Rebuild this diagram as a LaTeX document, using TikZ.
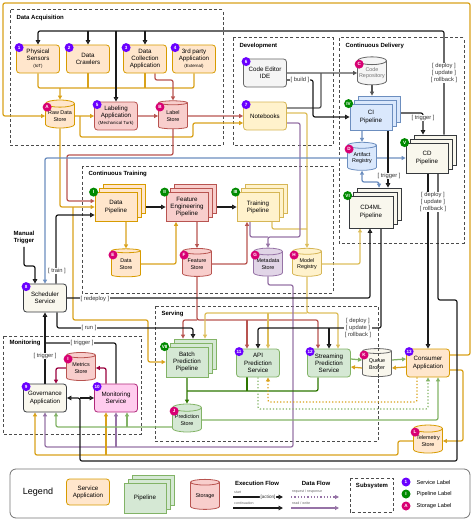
\documentclass[tikz,border=0pt]{standalone}
\usepackage{fontspec}
\setmainfont{Liberation Sans}
\usetikzlibrary{
  arrows.meta,
  shapes.geometric,
  positioning,
  calc,
  shadows,
  backgrounds
}
% node fills and strokes
\definecolor{svcfill}{HTML}{FFE6CC}
\definecolor{svcdraw}{HTML}{D79B00}
\definecolor{grnfill}{HTML}{D5E8D4}
\definecolor{grndraw}{HTML}{82B366}
\definecolor{redfill}{HTML}{F8CECC}
\definecolor{reddraw}{HTML}{B85450}
\definecolor{blufill}{HTML}{DAE8FC}
\definecolor{bludraw}{HTML}{6C8EBF}
\definecolor{yelfill}{HTML}{FFF2CC}
\definecolor{yeldraw}{HTML}{D6B656}
\definecolor{purfill}{HTML}{E1D5E7}
\definecolor{purdraw}{HTML}{9673A6}
\definecolor{gryfill}{HTML}{F5F5F5}
\definecolor{grydraw}{HTML}{666666}
\definecolor{begfill}{HTML}{F9F7ED}
\definecolor{begdraw}{HTML}{36393D}
\definecolor{pnkfill}{HTML}{FFCCEE}
\definecolor{pnkdraw}{HTML}{B0287A}
% badges
\definecolor{bpurple}{HTML}{6A00FF}
\definecolor{bgreen}{HTML}{008A00}
\definecolor{bmagenta}{HTML}{D80073}
% connectors
\definecolor{orline}{HTML}{D9A21B}
\definecolor{yeline}{HTML}{DDBE5C}
\definecolor{rdline}{HTML}{B85450}
\definecolor{blline}{HTML}{6C8EBF}
\definecolor{puline}{HTML}{9673A6}
\definecolor{dgline}{HTML}{2D7600}
\definecolor{lgline}{HTML}{82B366}
\definecolor{mrline}{HTML}{99003D}
\definecolor{gyline}{HTML}{555555}
\definecolor{exline}{HTML}{1A1A1A}

\begin{document}
\begin{tikzpicture}[
      x=1pt, y=-1pt,
      >={Triangle[length=4pt,width=4pt]},
      service/.style 2 args={
         rectangle,
         rounded corners=3pt,
         minimum width=43pt,
         minimum height=28pt,
         inner sep=1pt,
         line width=0.8pt,
         fill=#1, draw=#2,
         align=center,
         font=\fontsize{6.2}{7.2}\selectfont
      },
      pipeline/.style 2 args={
         rectangle,
         minimum width=42pt,
         minimum height=29pt,
         inner sep=1pt,
         line width=0.8pt,
         fill=#1, draw=#2,
         align=center,
         font=\fontsize{6.2}{7.2}\selectfont,
         copy shadow={shadow xshift=8pt,shadow yshift=8pt,fill=#1,draw=#2,line width=0.8pt},
         copy shadow={shadow xshift=4pt,shadow yshift=4pt,fill=#1,draw=#2,line width=0.8pt}
      },
      storage/.style 2 args={
         cylinder,
         shape border rotate=90,
         aspect=0.3,
         minimum width=29pt,
         minimum height=28pt,
         inner sep=0pt,
         line width=0.8pt,
         fill=#1, draw=#2,
         align=center,
         font=\fontsize{5.4}{6.4}\selectfont
      },
      badge/.style={
         circle, inner sep=0pt, minimum size=9pt, anchor=center,
         text=white, font=\bfseries\fontsize{4.6}{5}\selectfont
      },
      svc no/.style={label={[badge,fill=bpurple,xshift=3pt,yshift=-3pt]north west:#1}},
      pipe no/.style={label={[badge,fill=bgreen,xshift=-1pt]north west:#1}},
      store no/.style={label={[badge,fill=bmagenta,xshift=1pt,yshift=-5pt]north west:#1}},
      subsystem/.style={draw=black!70, line width=1pt, dash pattern=on 3pt off 2.2pt},
      boxtitle/.style={anchor=west, font=\bfseries\fontsize{6}{7}\selectfont},
      lbl/.style={fill=white, inner sep=0.6pt, align=center, text=black!80,
         font=\fontsize{5.8}{6.6}\selectfont},
      hint/.style={anchor=west, inner sep=0pt, text=black!60, font=\fontsize{3.6}{4}\selectfont},
      flow/.style={draw=#1, line width=1.25pt, rounded corners=2pt, ->},
      bus/.style={draw=#1, line width=1.25pt, rounded corners=2pt},
      exec/.style={draw=exline, line width=1.2pt, rounded corners=2pt,
         -{Triangle[open,length=4.5pt,width=4.5pt]}},
      point/.style={coordinate}
    ]
    \useasboundingbox (0,0) rectangle (474,519);

    % data acquisition
    \node (ps) [service={svcfill}{svcdraw}, svc no=1] at (38,59)
       {Physical\\Sensors\\{\fontsize{4.4}{5}\selectfont (IoT)}};
    \node (dc) [service={svcfill}{svcdraw}, svc no=2] at (88,59) {Data\\Crawlers};
    \node (dca) [service={svcfill}{svcdraw}, svc no=3] at (145,59) {Data\\Collection\\Application};
    \node (tpa) [service={svcfill}{svcdraw}, svc no=4] at (194,59)
       {3rd party\\Application\\{\fontsize{4.4}{5}\selectfont (External)}};
    \node (rds) [storage={svcfill}{svcdraw}, store no=A] at (60,116) {Raw Data\\Store};
    \node (lab) [service={redfill}{reddraw}, svc no=5] at (116,116)
       {Labeling\\Application\\{\fontsize{4.4}{5}\selectfont (Mechanical Turk)}};
    \node (ls) [storage={redfill}{reddraw}, store no=B] at (173,116) {Label\\Store};

    % development
    \node (ide) [service={gryfill}{grydraw}, svc no=6] at (265,73) {Code Editor\\IDE};
    \node (nb) [service={yelfill}{yeldraw}, svc no=7] at (265,116) {Notebooks};

    % continuous delivery
    \node (cr) [storage={gryfill}{grydraw}, store no=C, text=black!55] at (372,73) {Code\\Repository};
    \node (ci) [pipeline={blufill}{bludraw}, pipe no=IV, minimum height=26pt] at (371,117) {CI\\Pipeline};
    \node (ar) [storage={blufill}{bludraw}, store no=D] at (362,158) {Artifact\\Registry};
    \node (cd) [pipeline={begfill}{begdraw}, pipe no=V, minimum height=30pt] at (427,158) {CD\\Pipeline};
    \node (cdml) [pipeline={begfill}{begdraw}, pipe no=VI, minimum height=32pt, minimum width=44pt]
       at (371,212) {CD4ML\\Pipeline};

    % continuous training
    \node (dp) [pipeline={svcfill}{svcdraw}, pipe no=I] at (116,207) {Data\\Pipeline};
    \node (fe) [pipeline={redfill}{reddraw}, pipe no=II] at (187,207) {Feature\\Engineering\\Pipeline};
    \node (tp) [pipeline={yelfill}{yeldraw}, pipe no=III] at (258,207) {Training\\Pipeline};
    \node (ds) [storage={svcfill}{svcdraw}, store no=E] at (126,264) {Data\\Store};
    \node (fs) [storage={redfill}{reddraw}, store no=F] at (197,264) {Feature\\Store};
    \node (ms) [storage={purfill}{purdraw}, store no=G] at (268,264) {Metadata\\Store};
    \node (mr) [storage={yelfill}{yeldraw}, store no=H] at (307,264) {Model\\Registry};

    \node (mt) [align=center, font=\bfseries\fontsize{6}{7}\selectfont] at (24,237) {Manual\\Trigger};
    \node (sch) [service={begfill}{begdraw}, svc no=8] at (45,298) {Scheduler\\Service};

    % serving
    \node (bpp) [pipeline={grnfill}{grndraw}, pipe no=VII, minimum height=30pt] at (187,362)
       {Batch\\Prediction\\Pipeline};
    \node (api) [service={grnfill}{grndraw}, svc no=11] at (258,363) {API\\Prediction\\Service};
    \node (sps) [service={grnfill}{grndraw}, svc no=12] at (329,363) {Streaming\\Prediction\\Service};
    \node (qb) [storage={begfill}{grydraw}, store no=K] at (377,364) {Queue\\Broker};
    \node (ca) [service={svcfill}{svcdraw}, svc no=13] at (428,363) {Consumer\\Application};
    \node (pst) [storage={grnfill}{grndraw}, store no=J] at (187,420) {Prediction\\Store};

    % monitoring
    \node (mts) [storage={redfill}{reddraw}, store no=I] at (81,368) {Metrics\\Store};
    \node (gov) [service={begfill}{begdraw}, svc no=9] at (45,398) {Governance\\Application};
    \node (mon) [service={pnkfill}{pnkdraw}, svc no=10] at (116,398) {Monitoring\\Service};
    \node (tel) [storage={svcfill}{svcdraw}, store no=L] at (428,441) {Telemetry\\Store};

    \begin{scope}[on background layer]
      % subsystems
      \draw[subsystem] (10,10) rectangle (223,145);
      \draw[subsystem] (233,38) rectangle (333,145);
      \draw[subsystem] (339,38) rectangle (464,243);
      \draw[subsystem] (82,166) rectangle (333,293);
      \draw[subsystem] (155,306) rectangle (378,441);
      \draw[subsystem] (3,336) rectangle (141,434);

      % data flow
      \draw[bus=orline] (ps.south) |- (194,88) -- (tpa.south);
      \draw[bus=orline] (dc.south) -- (88,88);
      \draw[bus=orline] (dca.south) -- (145,88);
      \draw[flow=orline] (60,88) -- (rds.north);
      \draw[flow=rdline] ([xshift=10pt]dca.south) |- (173,80) -- (ls.north);
      \draw[flow=orline] (rds.east) -- (lab.west);
      \draw[flow=rdline] (lab.east) -- (ls.west);
      \draw[flow=rdline] (ls.east) -- (nb.west);
      \draw[flow=orline] (80,116) |- (193,137) |- ([yshift=-7pt]nb.west);
      \draw[flow=orline] (rds.south) |- (dp.west);
      \draw[flow=orline] (73,207) |- (148,320) |- (bpp.west);
      \draw[flow=rdline] (ls.south) |- (67,155) |- ([yshift=6pt]dp.west);
      \draw[flow=orline] ([xshift=10pt]dp.south) -- (ds.north);
      \draw[flow=orline] (ds.east) -| ([xshift=-11pt]fe.south);
      \draw[flow=rdline] ([xshift=10pt]fe.south) -- (fs.north);
      \draw[flow=rdline] (fs.east) -| ([xshift=-11pt]tp.south);
      \draw[flow=rdline] (fs.south) -- (197,320) -| ([xshift=-11pt]sps.north);
      \draw[flow=rdline] (197,320) -| ($(bpp.north)+(-4,-8)$);
      \draw[flow=rdline] (247,320) -- ([xshift=-11pt]api.north);
      \draw[bus=yeline] ([xshift=14pt]tp.south) |- (307,229);
      \draw[flow=yeline] ([yshift=3pt]nb.east) -| (mr.north);
      \draw[flow=puline] ([yshift=-7pt]nb.east) -| (300,237) -| (ms.north);
      \draw[bus=puline] ([xshift=-8pt]tp.south) |- (268,237);
      \draw[flow=yeline] (mr.east) -| ([xshift=-11pt]cdml.south);
      \draw[flow=yeline] (mr.south) -- (307,313) -| ([xshift=9pt]sps.north);
      \draw[flow=yeline] (307,313) -| ($(bpp.north)+(18,-8)$);
      \draw[flow=yeline] (268,313) -- ([xshift=10pt]api.north);
      \draw[flow=puline] (ms.south) -- (268,285) -| (293,447) -| (gov.south);
      \draw[flow=puline] (116,447) -- (mon.south);
      \draw[flow=orline] ([yshift=-7pt]ca.east) -| (463,441) -- (tel.east);
      \draw[flow=orline] (tel.west) -| (398,455) -| ([xshift=-10pt]gov.south);
      \draw[flow=orline] (106,455) -- ([xshift=-10pt]mon.south);
      \draw[flow=orline] ([yshift=8pt]ca.east) -| (470,3) -| (3,116) -- (rds.west);
      \draw[flow=lgline] ([yshift=4pt]sps.east) -- ([yshift=4pt]qb.west);
      \draw[flow=orline] ([yshift=-4pt]qb.west) -- ([yshift=-4pt]sps.east);
      \draw[flow=lgline] ([yshift=4pt]qb.east) -- ([yshift=4pt]ca.west);
      \draw[flow=orline] ([yshift=-4pt]ca.west) -- ([yshift=-4pt]qb.east);
      \draw[flow=dgline] (bpp.south) -- (pst.north);
      \draw[bus=dgline] ([xshift=-11pt]sps.south) |- (187,391);
      \draw[bus=dgline] ([xshift=-11pt]api.south) -- (247,391);
      \draw[flow=lgline] (pst.east) -| ([xshift=10pt]ca.south);
      \draw[flow=lgline] ([yshift=-7pt]pst.west) -| ([xshift=11pt]gov.south);
      \draw[flow=lgline] (127,427) -- ([xshift=11pt]mon.south);
      \draw[flow=lgline, dotted] (api.south) |- (428,409) -- (ca.south);
      \draw[flow=orline, dotted] ([xshift=-11pt]ca.south) |- (268,402) -- ([xshift=10pt]api.south);
      \draw[flow=mrline] ([xshift=-10pt]mon.north) |- (mts.east);
      \draw[flow=mrline] (mts.west) -| ([xshift=11pt]gov.north);
      \draw[flow=gyline] (ide.east) -- (cr.west);
      \draw[bus=gyline] ([yshift=8pt]nb.east) -| (321,73);
      \draw[flow=gyline] (cr.south) -- ($(ci.north)+(1,-8)$);
      \draw[flow=blline] ([xshift=-9pt]ci.south) -- (ar.north);
      \draw[flow=blline, <->] (ar.south) |- (379,182) -- ($(cdml.north)+(8,-8)$);
      \draw[flow=blline] (ar.east) -- (cd.west);
      \draw[flow=blline] (ar.west) -| (sch.north);

      % execution flow
      \draw[exec] ($(cd.north)+(17,-8)$) |- (38,31) -- (ps.north);
      \draw[exec] (88,31) -- (dc.north);
      \draw[exec] (116,31) -- (lab.north);
      \draw[exec] (145,31) -- (dca.north);
      \draw[exec] ([xshift=1pt]cd.south) -- (ca.north);
      \draw[exec] ([xshift=11pt]cd.south) |- (457,300) |- (80,461) -- (80,398) -- (gov.east);
      \draw[exec] (80,398) -- (mon.west);
      \draw[exec] ([yshift=4pt]ci.east) -| ($(cd.north)+(-4,-8)$);
      \draw[exec] ([xshift=17pt]ci.south) -- ($(cdml.north)+(17,-8)$);
      \draw[exec] ([yshift=-7pt]ide.east) -- (313,80) |- (ci.west);
      \draw[exec] ([xshift=11pt]sch.north) |- ([yshift=-8pt]dp.west);
      \draw[exec] (mt.south) |- (35,266) -- ([xshift=-10pt]sch.north);
      \draw[exec] (sch.east) -| ([xshift=-1pt]cdml.south);
      \draw[exec] ([xshift=12pt]sch.south) |- (193,328) -- ($(bpp.north)+(6,-8)$);
      \draw[exec] (gov.north) -- (sch.south);
      \draw[exec, -] (mon.north) |- (45,343);
      \draw[exec] ([xshift=10pt]cdml.south) |- (258,328) -- (api.north);
      \draw[exec] (329,328) -- (sps.north);
      \draw[exec] (dp.east) -- (fe.west);
      \draw[exec] (fe.east) -- (tp.west);
    \end{scope}

    % queue broker sits on the serving border
    \draw[subsystem] (378,348) -- (378,382);

    % subsystem titles
    \node (tda) [boxtitle] at (13,18) {Data Acquisition};
    \node (tdev) [boxtitle] at (236,46) {Development};
    \node (tcd) [boxtitle] at (342,46) {Continuous Delivery};
    \node (tct) [boxtitle] at (85,174) {Continuous Training};
    \node (tsv) [boxtitle] at (158,314) {Serving};
    \node (tmo) [boxtitle] at (6,343) {Monitoring};

    % connector labels
    \node (l1) [lbl] at (444,73) {{[ deploy ]}\\{[ update ]}\\{[ rollback ]}};
    \node (l2) [lbl] at (433,202) {{[ deploy ]}\\{[ update ]}\\{[ rollback ]}};
    \node (l3) [lbl] at (423,118) {[ trigger ]};
    \node (l4) [lbl] at (389,176) {[ trigger ]};
    \node (l5) [lbl] at (300,80) {[ build ]};
    \node (l6) [lbl] at (57,271) {[ train ]};
    \node (l7) [lbl] at (95,299) {[ redeploy ]};
    \node (l8) [lbl] at (89,328) {[ run ]};
    \node (l9) [lbl] at (45,356) {[ trigger ]};
    \node (l10) [lbl] at (82,343) {[ trigger ]};
    \node (l11) [lbl] at (358,328) {{[ deploy ]}\\{[ update ]}\\{[ rollback ]}};

    % legend
    \draw[draw=black!55, line width=0.8pt, rounded corners=6pt] (10,469) rectangle (470,518);
    \node (lgd) [font=\fontsize{9}{10}\selectfont] at (38,492) {Legend};
    \node (lsvc) [service={svcfill}{svcdraw}, minimum height=26pt] at (88,492) {Service\\Application};
    \node (lpipe) [pipeline={grnfill}{grndraw}, minimum height=30pt] at (145,498) {Pipeline};
    \node (lsto) [storage={redfill}{reddraw}, minimum height=30pt] at (205,496) {Storage};
    \node (lexe) [font=\bfseries\fontsize{6}{7}\selectfont] at (257,483) {Execution Flow};
    \node (ldat) [font=\bfseries\fontsize{6}{7}\selectfont] at (316,483) {Data Flow};
    \node (hst) [hint] at (234,492) {start};
    \node (hco) [hint] at (234,503) {continuation};
    \node (hrr) [hint] at (292,492) {request / response};
    \node (hrw) [hint] at (292,503) {read / write};
    \coordinate (xa1) at (233,497); \coordinate (xb1) at (283,497);
    \coordinate (xa2) at (233,508); \coordinate (xb2) at (283,508);
    \coordinate (da1) at (291,497); \coordinate (db1) at (339,497);
    \coordinate (da2) at (291,508); \coordinate (db2) at (339,508);
    \draw[exec] (xa1) -- node[lbl, pos=0.7, font=\fontsize{4.6}{5}\selectfont] (lact) {[action]} (xb1);
    \draw[exec] (xa2) -- (xb2);
    \draw[flow=puline, dotted] (da1) -- (db1);
    \draw[flow=puline] (da2) -- (db2);
    \draw[subsystem] (350,478) rectangle (393,512);
    \node (lsub) [font=\bfseries\fontsize{6}{7}\selectfont] at (372,486) {Subsystem};
    \node (bs) [badge, fill=bpurple] at (406,482) {1};
    \node (bp) [badge, fill=bgreen] at (406,494) {I};
    \node (bt) [badge, fill=bmagenta] at (406,506) {A};
    \node (ts) [anchor=west, font=\fontsize{5.6}{6}\selectfont] at (413,482) {Service Label};
    \node (tpl) [anchor=west, font=\fontsize{5.6}{6}\selectfont] at (413,494) {Pipeline Label};
    \node (tsl) [anchor=west, font=\fontsize{5.6}{6}\selectfont] at (413,506) {Storage Label};
\end{tikzpicture}
\end{document}
